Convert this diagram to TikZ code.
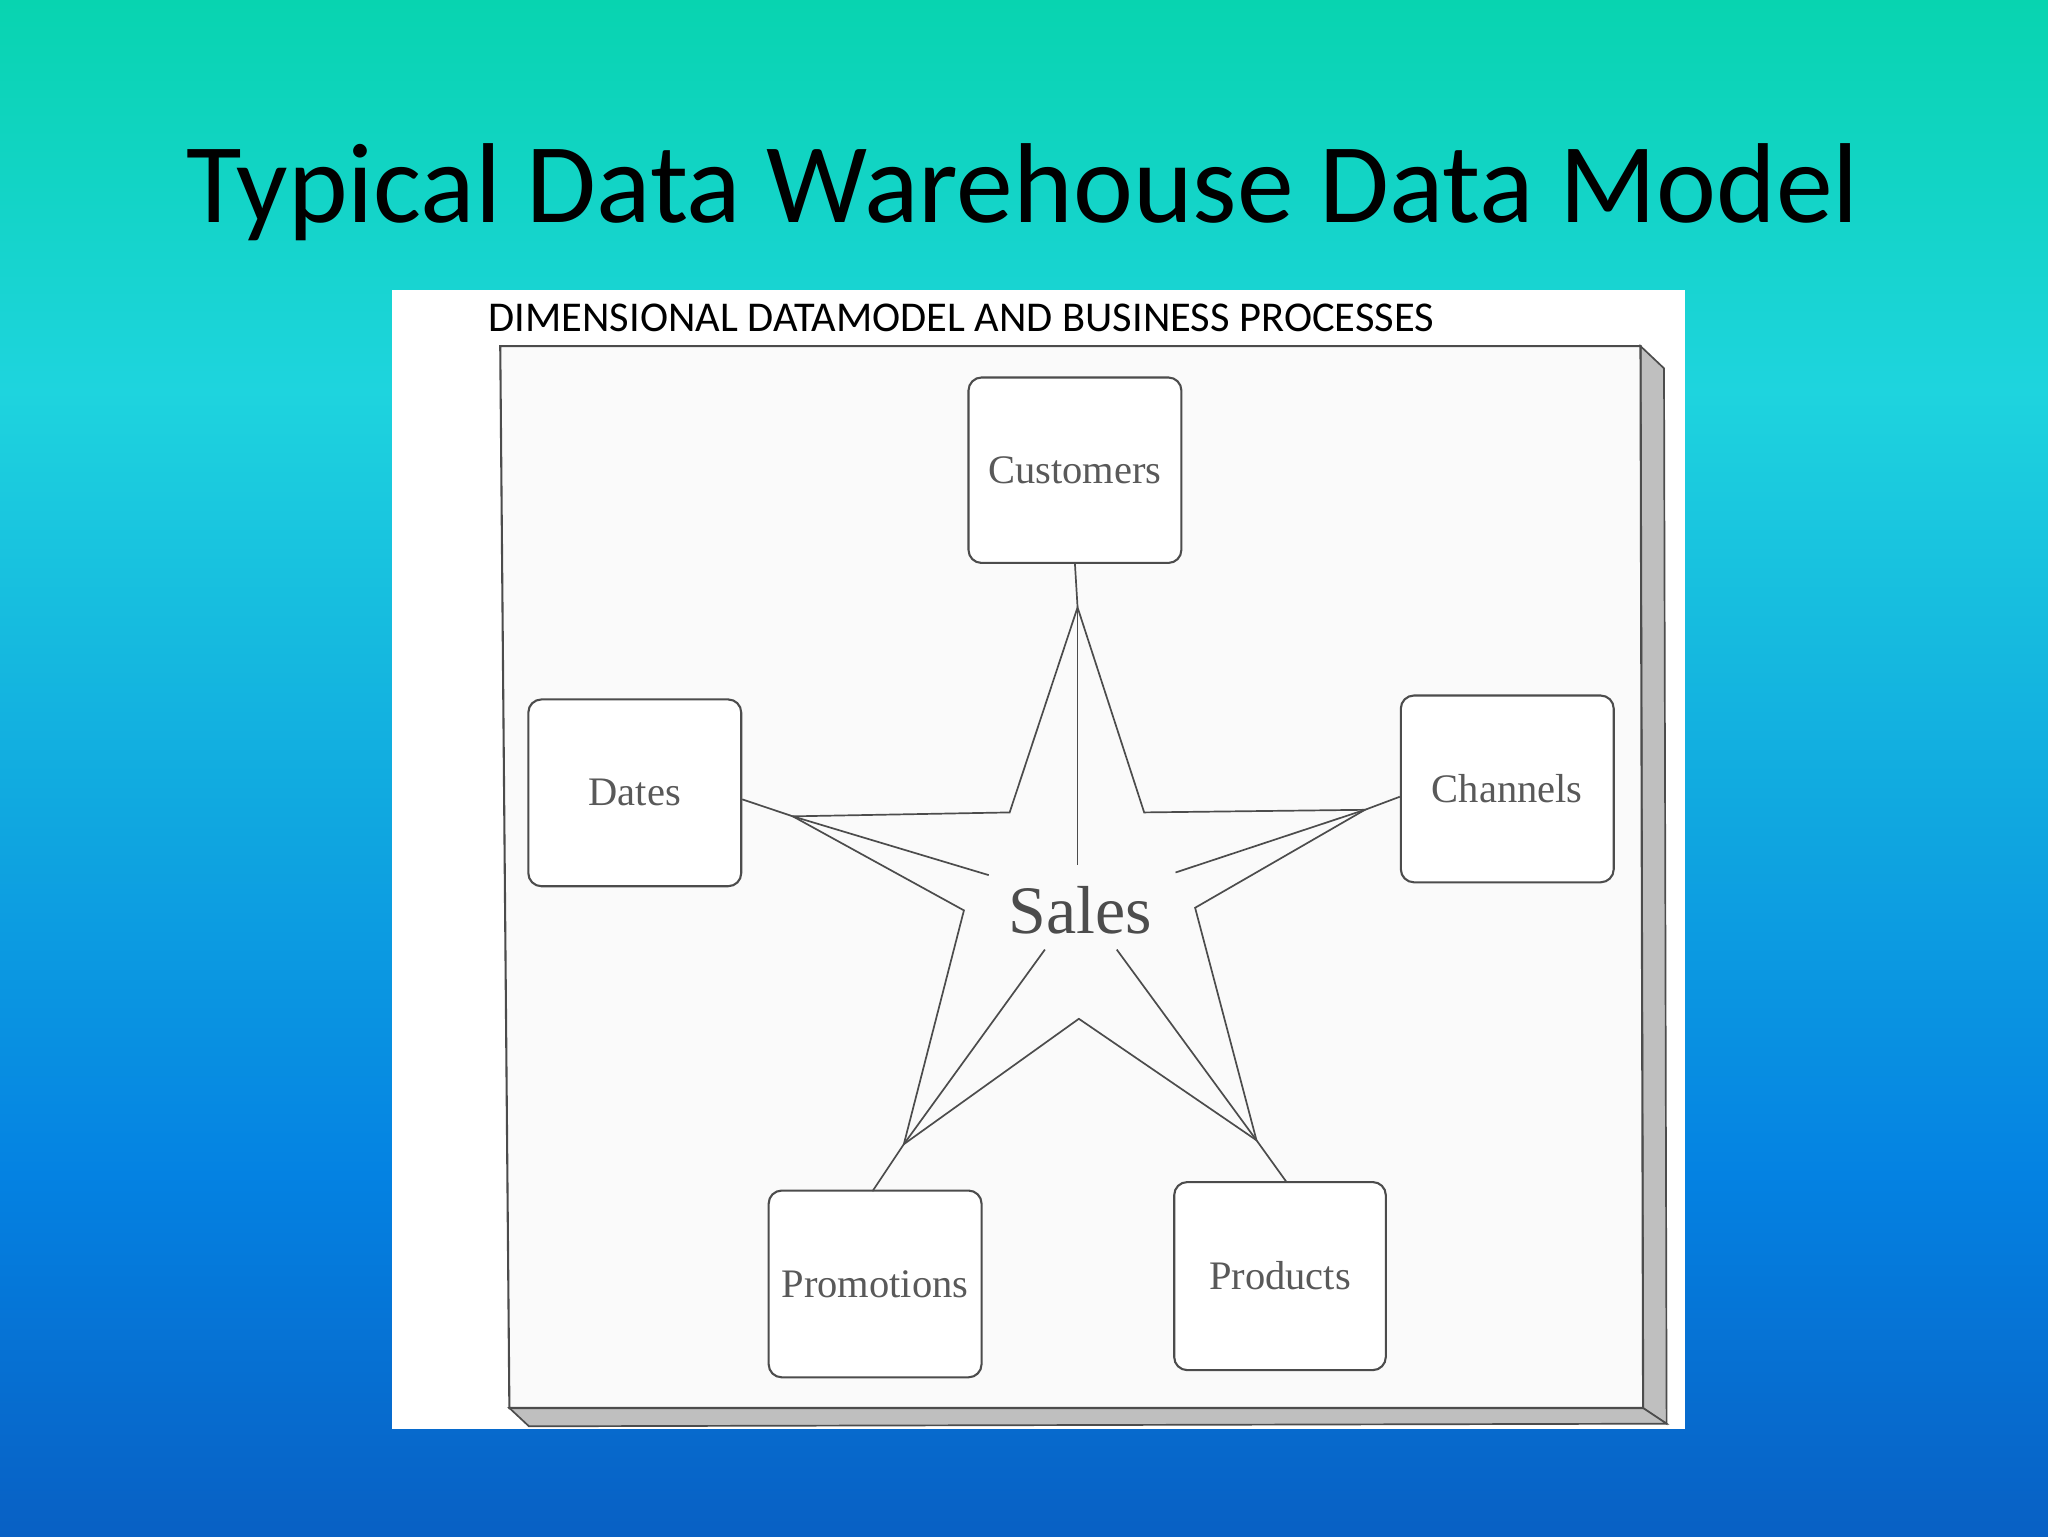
\documentclass[tikz,border=0pt]{standalone}
\usepackage{fontspec}
\setmainfont{Liberation Serif}
\newfontfamily\carlfont{Carlito}
\begin{document}
\begin{tikzpicture}[x=1pt,y=-1pt,
  dim/.style={draw=black!70,line width=1.6pt,rounded corners=10pt,fill=white},
  lbl/.style={text=black!65,font=\fontsize{31}{34}\selectfont},
  ln/.style={draw=black!70,line width=1.3pt}]
\definecolor{c1}{RGB}{8,212,176}
\definecolor{c2}{RGB}{30,212,222}
\definecolor{c3}{RGB}{4,130,226}
\definecolor{c4}{RGB}{8,96,196}
\useasboundingbox (0,0) rectangle (1568,1176);
\shade[top color=c1,bottom color=c2] (0,0) rectangle (1568,300);
\shade[top color=c2,bottom color=c3] (0,299) rectangle (1568,900);
\shade[top color=c3,bottom color=c4] (0,899) rectangle (1568,1176);
\node (title) at (783,147) {\carlfont\fontsize{87}{95}\selectfont Typical Data Warehouse Data Model};
\fill[white] (300,222) rectangle (1290,1094);
\node (hdr) at (736,243) {\carlfont\fontsize{32.5}{35}\selectfont DIMENSIONAL DATAMODEL AND BUSINESS PROCESSES};
% board
\filldraw[fill=black!25,draw=black!70,line width=1.3pt] (1256,265) -- (1274,282) -- (1276,1090) -- (1258,1078) -- cycle;
\filldraw[fill=black!25,draw=black!70,line width=1.3pt] (390,1078) -- (1258,1078) -- (1276,1090) -- (405,1092) -- cycle;
\draw[line width=1.6pt,black!70,fill=black!2] (383,265) -- (1256,265) -- (1258,1078) -- (390,1078) -- cycle;
% boxes
\node[dim,minimum width=163pt,minimum height=142pt,lbl] (cust) at (823,360) {Customers};
\node[dim,minimum width=163pt,minimum height=143pt,lbl] (dates) at (486,607) {Dates};
\node[dim,minimum width=163pt,minimum height=143pt,lbl] (chan) at (1154,604) {Channels};
\node[dim,minimum width=163pt,minimum height=143pt,lbl] (promo) at (670,983) {Promotions};
\node[dim,minimum width=162pt,minimum height=144pt,lbl] (prod) at (980,977) {Products};
% star
\coordinate (t) at (825,465);
\coordinate (l) at (607,625);
\coordinate (r) at (1045,620);
\coordinate (bl) at (692,876);
\coordinate (br) at (962,873);
\draw[ln] (t) -- (773,622) -- (l) -- (738,697) -- (bl) -- (826,780) -- (br) -- (915,695) -- (r) -- (876,622) -- cycle;
\draw[ln] (t) -- (825,662);
\draw[ln] (l) -- (757,670);
\draw[ln] (r) -- (900,668);
\draw[ln] (bl) -- (800,727);
\draw[ln] (br) -- (855,727);
\draw[ln] (cust.south) -- (t);
\draw[ln] (dates.east) ++(0,5) -- (l);
\draw[ln] (chan.west) ++(0,6) -- (r);
\draw[ln] (668,912) -- (bl);
\draw[ln] (985,905) -- (br);
\node[text=black!70,font=\fontsize{52}{56}\selectfont] (sales) at (827,697) {Sales};
\end{tikzpicture}
\end{document}
